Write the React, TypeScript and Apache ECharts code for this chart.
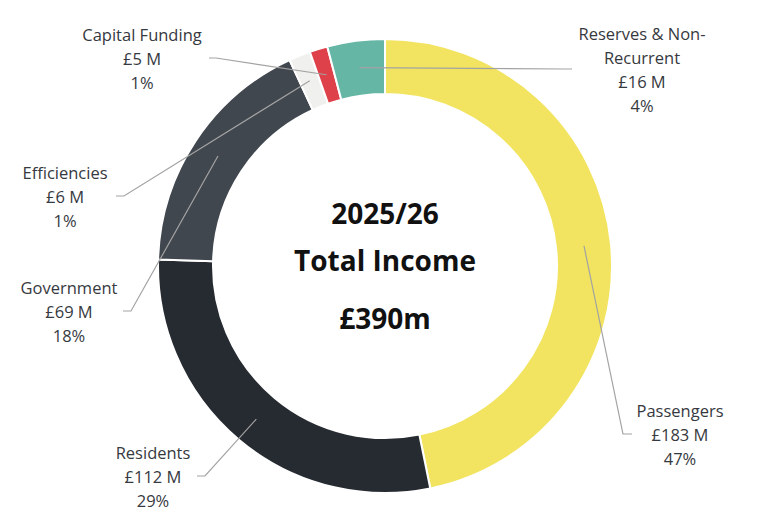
import React, { useEffect, useRef } from 'react';
import * as echarts from 'echarts';

const categories = ['Passengers', 'Residents', 'Government', 'Efficiencies', 'Capital Funding', 'Reserves & Non-Recurrent'];
const values = [183, 112, 69, 6, 5, 16];
const percentLabels = ['47%', '29%', '18%', '1%', '1%', '4%'];
const sliceColors = ['#F2E460', '#262A31', '#41474F', '#F0F0EE', '#DE4149', '#66B6A6'];
const yearText = '2025/26';
const titleText = 'Total Income';
const totalText = '£390m';

const CX = 385;
const CY = 266;
const R_IN = 172;
const R_OUT = 227;
const R_LINE = 200;

// label block centres and leader line ends (layout only)
const labelSpots = [
  { x: 680, y: 434, end: 632, bend: 623 },
  { x: 153, y: 476, end: 197, bend: 205 },
  { x: 69, y: 311, end: 123, bend: 131 },
  { x: 65, y: 196, end: 116, bend: 124 },
  { x: 142, y: 58, end: 209, bend: 216 },
  { x: 642, y: 69, end: 572, bend: 565 },
];

const FONT = '"Open Sans", "Noto Sans", sans-serif';

export default function App() {
  const ref = useRef<HTMLDivElement>(null);
  useEffect(() => {
    if (!ref.current) return;
    const chart = echarts.init(ref.current, undefined, { renderer: 'svg' });
    const ringData = categories.map((name, i) => ({
      name,
      value: values[i],
      itemStyle: { color: sliceColors[i] },
    }));
    const labelData = categories.map((name, i) => ({ name, value: values[i] }));
    const centerStyle = { align: 'center', verticalAlign: 'middle', fontSize: 28, fontWeight: 'bold', fontFamily: FONT, fill: '#111111' };
    chart.setOption({
      animation: false,
      backgroundColor: '#ffffff',
      graphic: [
        { type: 'text', x: CX, y: 213, z: 10, style: { ...centerStyle, text: yearText } },
        { type: 'text', x: CX, y: 260, z: 10, style: { ...centerStyle, text: titleText } },
        { type: 'text', x: CX, y: 318, z: 10, style: { ...centerStyle, text: totalText } },
      ],
      series: [
        {
          type: 'pie',
          z: 1,
          center: [CX, CY],
          radius: [R_IN, R_OUT],
          startAngle: 90,
          clockwise: true,
          avoidLabelOverlap: false,
          silent: true,
          itemStyle: { borderColor: '#ffffff', borderWidth: 2 },
          label: { show: false },
          labelLine: { show: false },
          data: ringData,
        },
        {
          type: 'pie',
          z: 3,
          center: [CX, CY],
          radius: [0, R_LINE],
          startAngle: 90,
          clockwise: true,
          avoidLabelOverlap: false,
          silent: true,
          itemStyle: { color: 'rgba(0,0,0,0)', borderWidth: 0 },
          label: {
            show: true,
            position: 'outside',
            fontFamily: FONT,
            fontSize: 16.5,
            lineHeight: 24,
            color: '#363940',
            align: 'center',
            formatter: (p: any) => `${p.name.replace('Non-', 'Non-\n')}\n£${p.value} M\n${percentLabels[p.dataIndex]}`,
          },
          labelLine: { show: true, smooth: false, lineStyle: { color: '#a3a3a3', width: 1.2 } },
          labelLayout: (p: any) => {
            const s = labelSpots[p.dataIndex];
            const pts = p.labelLinePoints;
            const start = pts && pts.length ? pts[0] : [CX, CY];
            return {
              x: s.x,
              y: s.y,
              align: 'center',
              verticalAlign: 'middle',
              labelLinePoints: [start, [s.bend, s.y], [s.end, s.y]],
            };
          },
          data: labelData,
        },
      ],
    });
    return () => chart.dispose();
  }, []);
  return <div ref={ref} style={{ position: 'absolute', left: 0, top: 0, width: 768, height: 511 }} />;
}
